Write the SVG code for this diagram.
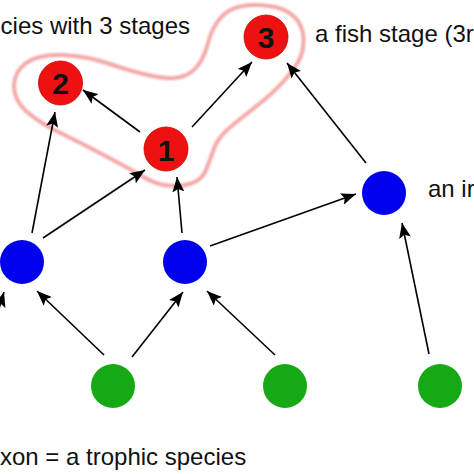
<svg xmlns="http://www.w3.org/2000/svg" width="474" height="474" viewBox="0 0 474 474">
<defs>
<style>
.lbl{font-family:"Liberation Sans",Arial,sans-serif;font-size:24px;fill:#111;}
.num{font-family:"Liberation Sans",Arial,sans-serif;font-size:30px;font-weight:bold;fill:#111;text-anchor:middle;}
.red{fill:#ee1111;stroke:#cc0000;stroke-width:0.8;}
.blue{fill:#0000ee;}
.green{fill:#15aa15;}
.edge{stroke:#000;stroke-width:1.6;fill:none;marker-end:url(#ah);}
</style>
<marker id="ah" markerUnits="userSpaceOnUse" markerWidth="16" markerHeight="12" refX="15" refY="6" orient="auto">
<path d="M0,0 L15,6 L0,12 L3,6 Z" fill="#000"/>
</marker>
<filter id="blur" x="-10%" y="-10%" width="120%" height="120%">
<feGaussianBlur stdDeviation="1.3"/>
</filter>
</defs>
<rect width="474" height="474" fill="#fff"/>
<g id="halo">
<path d="M240.5,6.5 Q253,4 269,6 Q285,8 294,16.5 Q303,25 303.5,38.5 Q304,52 298,62 Q292,72 282,83 Q272,94 258.5,104.5 Q245,115 231.5,126 Q218,137 214,148.5 Q210,160 206,170 Q202,180 191,183.5 Q180,187 167.5,185.5 Q155,184 143.5,177 Q132,170 107.5,157 Q83,144 60.5,133 Q38,122 26,111 Q14,100 14,86 Q14,72 26,63 Q38,54 62.5,55 Q87,56 110,64 Q133,72 152.5,76 Q172,80 182.5,76.5 Q193,73 199,64 Q205,55 208.5,41.5 Q212,28 220,18.5 Q228,9 240.5,6.5 Z" fill="none" stroke="#f08a8a" stroke-width="4" opacity="0.75" filter="url(#blur)"/>
</g>
<g id="connectors">
<line class="edge" x1="32" y1="233" x2="55" y2="112"/>
<line class="edge" x1="43" y1="238" x2="145" y2="170"/>
<line class="edge" x1="140" y1="132" x2="83" y2="90"/>
<line class="edge" x1="192" y1="127" x2="252" y2="62"/>
<line class="edge" x1="182" y1="233" x2="177" y2="177"/>
<line class="edge" x1="366" y1="163" x2="287" y2="63"/>
<line class="edge" x1="210" y1="246" x2="356" y2="194"/>
<line class="edge" x1="104" y1="355" x2="37" y2="291"/>
<line class="edge" x1="132" y1="357" x2="183" y2="292"/>
<line class="edge" x1="275" y1="355" x2="207" y2="291"/>
<line class="edge" x1="429" y1="354" x2="402" y2="223"/>
<line class="edge" x1="-15" y1="355" x2="4" y2="292"/>
</g>
<g id="node-1"><circle class="red" cx="166" cy="149" r="22"/><text class="num" x="166" y="161">1</text></g>
<g id="node-2"><circle class="red" cx="60.5" cy="83" r="22"/><text class="num" x="60.5" y="94">2</text></g>
<g id="node-3"><circle class="red" cx="266" cy="37" r="22"/><text class="num" x="266" y="48">3</text></g>
<g id="node-blue-left"><circle class="blue" cx="22" cy="262" r="22"/></g>
<g id="node-blue-mid"><circle class="blue" cx="185" cy="262" r="22"/></g>
<g id="node-blue-right"><circle class="blue" cx="384" cy="193" r="22"/></g>
<g id="node-green-1"><circle class="green" cx="113" cy="386" r="22"/></g>
<g id="node-green-2"><circle class="green" cx="285" cy="386" r="22"/></g>
<g id="node-green-3"><circle class="green" cx="440" cy="386" r="22"/></g>
<g id="labels">
<text class="lbl" x="190" y="34" text-anchor="end">cies with 3 stages</text>
<text class="lbl" x="315" y="42">a fish stage (3r</text>
<text class="lbl" x="428" y="197">an ir</text>
<text class="lbl" x="0" y="465">xon = a trophic species</text>
</g>
</svg>
